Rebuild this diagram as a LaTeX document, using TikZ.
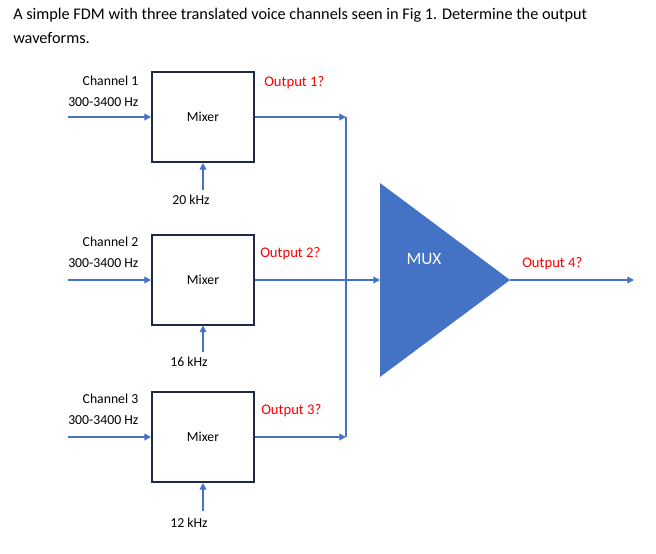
\documentclass[tikz,border=0pt]{standalone}
\usepackage{fontspec}
\setmainfont{Carlito}
\usetikzlibrary{arrows.meta}
\definecolor{wireblue}{HTML}{4472C4}
\definecolor{boxnavy}{HTML}{1F2A44}
\tikzset{
  mixer/.style={draw=boxnavy, line width=1.5pt, minimum width=76.5pt, minimum height=67.5pt, font=\fontsize{10.3}{12}\selectfont},
  wire/.style={draw=wireblue, line width=1.3pt},
  sig/.style={wire, -{Triangle[length=5pt,width=5pt]}},
  lbl/.style={font=\fontsize{10.3}{15.5}\selectfont, align=right, anchor=east},
  outlbl/.style={font=\fontsize{11}{13}\selectfont, text=red, anchor=west, inner sep=0pt},
  freq/.style={font=\fontsize{10.3}{12}\selectfont}
}
\begin{document}
\begin{tikzpicture}[x=0.75pt, y=-0.75pt]
  \useasboundingbox (0,0) rectangle (656,553);
  \node[anchor=west, font=\fontsize{12.2}{14}\selectfont, inner sep=0pt] (title1) at (13,15) {A simple FDM with three translated voice channels seen in Fig 1. Determine the output};
  \node[anchor=west, font=\fontsize{12.2}{14}\selectfont, inner sep=0pt] (title2) at (13,38) {waveforms.};
  % mixers
  \node[mixer] (mix1) at (203,117) {Mixer};
  \node[mixer] (mix2) at (203,279.5) {Mixer};
  \node[mixer] (mix3) at (203,437) {Mixer};
  % channel labels and inputs
  \node[lbl] (ch1) at (143,91) {Channel 1\\300-3400 Hz};
  \node[lbl] (ch2) at (143,252) {Channel 2\\300-3400 Hz};
  \node[lbl] (ch3) at (143,409) {Channel 3\\300-3400 Hz};
  \coordinate (in1) at (68,117);
  \coordinate (in2) at (68,280);
  \coordinate (in3) at (68,437);
  \draw[sig] (in1) -- (mix1.west |- in1);
  \draw[sig] (in2) -- (mix2.west |- in2);
  \draw[sig] (in3) -- (mix3.west |- in3);
  % carriers
  \node[freq] (f1) at (191,200) {20 kHz};
  \node[freq] (f2) at (189,362) {16 kHz};
  \node[freq] (f3) at (189,523) {12 kHz};
  \coordinate (lo1) at (203,190);
  \coordinate (lo2) at (203,352);
  \coordinate (lo3) at (203,511);
  \draw[sig] (lo1) -- (mix1.south);
  \draw[sig] (lo2) -- (mix2.south);
  \draw[sig] (lo3) -- (mix3.south);
  % mux
  \coordinate (mA) at (380,183);
  \coordinate (mB) at (380,377);
  \coordinate (mC) at (510,280);
  \fill[wireblue] (mA) -- (mC) -- (mB) -- cycle;
  \node[text=white, font=\fontsize{13}{15}\selectfont] (mux) at (424,259) {MUX};
  % outputs
  \coordinate (bus1) at (346,117);
  \coordinate (bus3) at (346,437);
  \draw[sig] (mix1.east |- bus1) -- (bus1);
  \draw[sig] (mix3.east |- bus3) -- (bus3);
  \draw[wire] (bus1) -- (bus3);
  \draw[sig] (mix2.east |- mC) -- (mA |- mC);
  \coordinate (out4) at (634,280);
  \draw[sig] (mC) -- (out4);
  \node[outlbl] (o1) at (264,83) {Output 1?};
  \node[outlbl] (o2) at (260,254) {Output 2?};
  \node[outlbl] (o3) at (261,411) {Output 3?};
  \node[outlbl] (o4) at (522,264) {Output 4?};
\end{tikzpicture}
\end{document}
